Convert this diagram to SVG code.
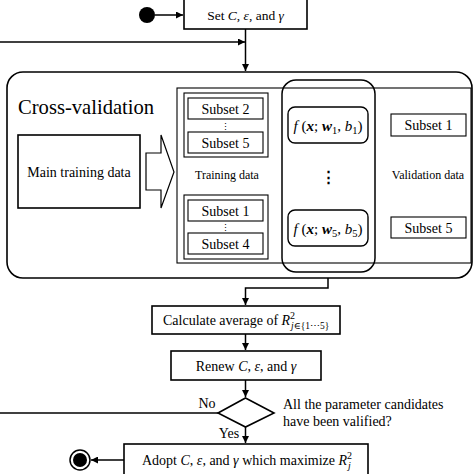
<svg xmlns="http://www.w3.org/2000/svg" width="474" height="474" viewBox="0 0 474 474">
<defs>
<marker id="ah" viewBox="0 0 10 10" refX="10" refY="5" markerWidth="7" markerHeight="7" markerUnits="userSpaceOnUse" orient="auto">
<path d="M0,0 L10,5 L0,10 z" fill="#000"/>
</marker>
<style>
.box{fill:#fff;stroke:#000;stroke-width:1.6}
.thin{fill:none;stroke:#000;stroke-width:1.1}
.ln{fill:none;stroke:#000;stroke-width:1.5}
text{font-family:"Liberation Serif","DejaVu Serif",serif;fill:#000}
.t14{font-size:14px}
.t12{font-size:12px}
.m{font-style:italic}
.mb{font-style:italic;font-weight:bold}
</style>
</defs>
<rect width="474" height="474" fill="#fff"/>

<g id="connectors">
<line class="ln" x1="155" y1="15" x2="183" y2="15" marker-end="url(#ah)"/>
<line class="ln" x1="0" y1="42" x2="245" y2="42" marker-end="url(#ah)"/>
<line class="ln" x1="245.5" y1="29" x2="245.5" y2="71" marker-end="url(#ah)"/>
<polyline class="ln" points="328,272 328,288 245.5,288 245.5,305" marker-end="url(#ah)"/>
<line class="ln" x1="245.5" y1="334" x2="245.5" y2="350" marker-end="url(#ah)"/>
<line class="ln" x1="245.5" y1="380" x2="245.5" y2="397" marker-end="url(#ah)"/>
<line class="ln" x1="218" y1="413" x2="0" y2="413"/>
<line class="ln" x1="245.5" y1="427" x2="245.5" y2="443" marker-end="url(#ah)"/>
<line class="ln" x1="124" y1="460" x2="91" y2="460" marker-end="url(#ah)"/>
<line class="ln" x1="268" y1="125" x2="288" y2="125" marker-end="url(#ah)"/>
<line class="ln" x1="391" y1="125" x2="368" y2="125" marker-end="url(#ah)"/>
<line class="ln" x1="268" y1="228" x2="288" y2="228" marker-end="url(#ah)"/>
<line class="ln" x1="391" y1="228" x2="368" y2="228" marker-end="url(#ah)"/>
</g>

<g id="start">
<circle cx="147" cy="15" r="8" fill="#000"/>
</g>

<g id="set-params">
<rect class="box" x="184" y="-2" width="123" height="31"/>
<text x="245.5" y="20" font-size="13.5" text-anchor="middle">Set <tspan class="m">C</tspan>, <tspan class="m">ε</tspan>, and <tspan class="m">γ</tspan></text>
</g>

<g id="cross-validation">
<rect x="7" y="72" width="465" height="206" rx="16" fill="#fff" stroke="#000" stroke-width="1.6"/>
<text x="18" y="114" font-size="20.6">Cross-validation</text>
</g>

<g id="main-training">
<rect class="box" x="18" y="135" width="122" height="73"/>
<text class="t14" x="79" y="177" text-anchor="middle">Main training data</text>
</g>

<g id="block-arrow">
<path d="M146,153 L161,153 L161,135 L174,172 L161,208 L161,190 L146,190 Z" fill="#fff" stroke="#000" stroke-width="1.2"/>
</g>

<g id="folds">
<rect class="thin" x="177" y="88" width="294" height="175"/>
<text class="t12" x="227" y="179" text-anchor="middle">Training data</text>
<text class="t12" x="428" y="179" text-anchor="middle">Validation data</text>
</g>

<g id="models">
<rect x="282" y="80" width="93" height="192" rx="14" fill="none" stroke="#000" stroke-width="1.5"/>
<text x="328" y="182" font-size="15" text-anchor="middle" font-weight="bold">⋮</text>
</g>

<g id="train-group-1">
<rect class="thin" x="184" y="93" width="84" height="64"/>
<rect class="thin" x="188" y="98" width="75" height="21"/>
<rect class="thin" x="188" y="132" width="75" height="21"/>
<text class="t14" x="225.5" y="113.5" text-anchor="middle">Subset 2</text>
<text x="225.5" y="130" font-size="9" text-anchor="middle">⋮</text>
<text class="t14" x="225.5" y="147.5" text-anchor="middle">Subset 5</text>
</g>

<g id="train-group-5">
<rect class="thin" x="184" y="195" width="84" height="64"/>
<rect class="thin" x="188" y="200" width="75" height="21"/>
<rect class="thin" x="188" y="233" width="75" height="21"/>
<text class="t14" x="225.5" y="215.5" text-anchor="middle">Subset 1</text>
<text x="225.5" y="231" font-size="9" text-anchor="middle">⋮</text>
<text class="t14" x="225.5" y="248.5" text-anchor="middle">Subset 4</text>
</g>

<g id="model-1">
<rect x="288" y="107" width="80" height="36" rx="7" fill="#fff" stroke="#000" stroke-width="1.4"/>
<text x="328" y="130.5" font-size="15" text-anchor="middle"><tspan class="m">f</tspan> (<tspan class="mb">x</tspan>; <tspan class="mb">w</tspan><tspan font-size="10.5" dy="3">1</tspan><tspan dy="-3">, </tspan><tspan class="m">b</tspan><tspan font-size="10.5" dy="3">1</tspan><tspan dy="-3">)</tspan></text>
</g>

<g id="model-5">
<rect x="288" y="210" width="80" height="36" rx="7" fill="#fff" stroke="#000" stroke-width="1.4"/>
<text x="328" y="233.5" font-size="15" text-anchor="middle"><tspan class="m">f</tspan> (<tspan class="mb">x</tspan>; <tspan class="mb">w</tspan><tspan font-size="10.5" dy="3">5</tspan><tspan dy="-3">, </tspan><tspan class="m">b</tspan><tspan font-size="10.5" dy="3">5</tspan><tspan dy="-3">)</tspan></text>
</g>

<g id="val-1">
<rect class="thin" x="391" y="114" width="75" height="22"/>
<text class="t14" x="428.5" y="130" text-anchor="middle">Subset 1</text>
</g>

<g id="val-5">
<rect class="thin" x="391" y="217" width="75" height="21"/>
<text class="t14" x="428.5" y="232.5" text-anchor="middle">Subset 5</text>
</g>

<g id="calc-average">
<rect class="box" x="152" y="306" width="188" height="28"/>
<text class="t14" x="163" y="325">Calculate average of <tspan class="m">R</tspan><tspan font-size="10" dy="-6">2</tspan><tspan font-size="9.5" dx="-4" dy="10" class="m">j</tspan><tspan font-size="9.5">∈{1⋯5}</tspan></text>
</g>

<g id="renew">
<rect class="box" x="171" y="351" width="150" height="29"/>
<text class="t14" x="246" y="370.5" text-anchor="middle">Renew <tspan class="m">C</tspan>, <tspan class="m">ε</tspan>, and <tspan class="m">γ</tspan></text>
</g>

<g id="decision">
<polygon points="245.5,398 274,413 245.5,427 218,413" fill="#fff" stroke="#000" stroke-width="1.6"/>
<text class="t14" x="207" y="408" text-anchor="middle">No</text>
<text class="t14" x="229" y="438" text-anchor="middle">Yes</text>
<text class="t14" x="283" y="409">All the parameter candidates</text>
<text class="t14" x="283" y="426">have been valified?</text>
</g>

<g id="adopt">
<rect class="box" x="124" y="444" width="244" height="34"/>
<text class="t14" x="142" y="465">Adopt <tspan class="m">C</tspan>, <tspan class="m">ε</tspan>, and <tspan class="m">γ</tspan> which maximize <tspan class="m">R</tspan><tspan font-size="10" dy="-6">2</tspan><tspan font-size="10" dx="-4" dy="10" class="m">j</tspan></text>
</g>

<g id="end">
<circle cx="80" cy="460" r="10" fill="#fff" stroke="#000" stroke-width="1.5"/>
<circle cx="80" cy="460" r="7" fill="#000"/>
</g>
</svg>
